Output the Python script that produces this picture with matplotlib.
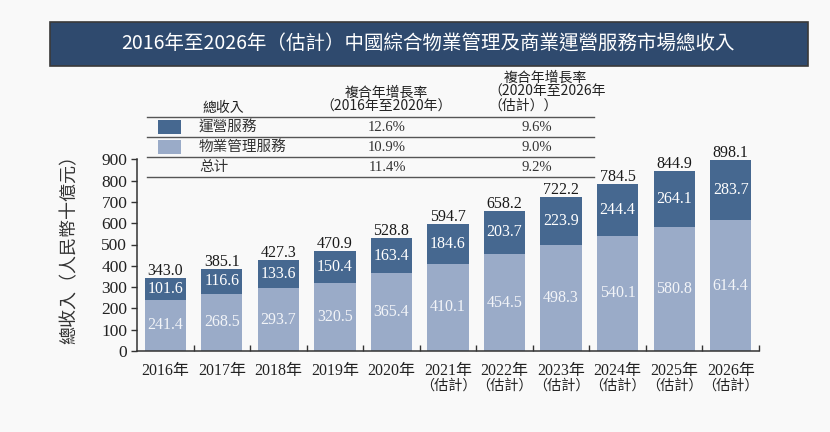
import matplotlib.pyplot as plt
from matplotlib.patches import Rectangle
from matplotlib.lines import Line2D
from matplotlib.transforms import blended_transform_factory
import numpy as np

years = ["2016年", "2017年", "2018年", "2019年", "2020年", "2021年",
         "2022年", "2023年", "2024年", "2025年", "2026年"]
estimated = [False, False, False, False, False, True, True, True, True, True, True]
property_mgmt = [241.4, 268.5, 293.7, 320.5, 365.4, 410.1, 454.5, 498.3, 540.1, 580.8, 614.4]
operations = [101.6, 116.6, 133.6, 150.4, 163.4, 184.6, 203.7, 223.9, 244.4, 264.1, 283.7]
totals = [343.0, 385.1, 427.3, 470.9, 528.8, 594.7, 658.2, 722.2, 784.5, 844.9, 898.1]

cagr_rows = ["運營服務", "物業管理服務", "总计"]
cagr_2016_2020 = ["12.6%", "10.9%", "11.4%"]
cagr_2020_2026 = ["9.6%", "9.0%", "9.2%"]

title = "2016年至2026年（估計）中國綜合物業管理及商業運營服務市場總收入"
ylabel = "總收入（人民幣十億元）"

dark_c = "#466890"
light_c = "#9aabc8"
serif = ["Liberation Serif", "Noto Sans CJK TC"]
sans = ["Noto Sans CJK TC", "DejaVu Sans"]

W, H = 830, 432
fig = plt.figure(figsize=(W / 100, H / 100), dpi=100, facecolor="#f9f9f9")


def fx(x):
    return x / W


def fy(y):
    return 1 - y / H


# title box
fig.add_artist(Rectangle((fx(50), fy(66)), fx(808) - fx(50), fy(22) - fy(66),
                         transform=fig.transFigure, facecolor="#2f4a6e",
                         edgecolor="#3a3a3a", lw=1.2))
fig.text(fx(428), fy(44), title, color="white", fontsize=14, family=sans,
         ha="center", va="center")

# main axes
ax = fig.add_axes([fx(137), fy(351), fx(759) - fx(137), fy(159.3) - fy(351)])
ax.set_facecolor("none")
x = np.arange(len(years))
ax.bar(x, property_mgmt, width=0.73, color=light_c)
ax.bar(x, operations, width=0.73, bottom=property_mgmt, color=dark_c)

for i in range(len(years)):
    ax.text(i, property_mgmt[i] / 2, "%.1f" % property_mgmt[i], ha="center", va="center",
            color="#f2f4f8", fontsize=11.5, family=serif)
    ax.text(i, property_mgmt[i] + operations[i] / 2, "%.1f" % operations[i], ha="center",
            va="center", color="white", fontsize=11.5, family=serif)
    ax.annotate("%.1f" % totals[i], (i, totals[i]), xytext=(0, 5), textcoords="offset points",
                ha="center", va="center", color="#1a1a1a", fontsize=11.5, family=serif)

ax.set_xlim(-0.5, len(years) - 0.5)
ax.set_ylim(0, 900)
ax.set_xticks(x)
ax.set_xticklabels(years, family=serif, fontsize=11.5)
ax.set_xticks(np.arange(0.5, len(years), 1), minor=True)
ax.tick_params(axis="x", which="major", length=0, pad=9, colors="#222")
ax.tick_params(axis="x", which="minor", direction="in", length=4, width=1, color="#333")

# second line of the estimated-year labels
tr = blended_transform_factory(ax.transData, fig.transFigure)
for i, est in enumerate(estimated):
    if est:
        ax.text(i, fy(386), "（估計）", transform=tr, ha="center", va="center",
                fontsize=10.2, family=sans, color="#222")

ax.set_yticks(range(0, 901, 100))
ax.set_yticklabels([str(v) for v in range(0, 901, 100)], family=serif, fontsize=12.5)
ax.tick_params(axis="y", direction="out", length=4, width=1, color="#333", labelcolor="#222", pad=3)
for s in ["top", "right"]:
    ax.spines[s].set_visible(False)
for s in ["left", "bottom"]:
    ax.spines[s].set_color("#333")
    ax.spines[s].set_linewidth(1.1)

fig.text(fx(70), fy(245), ylabel, rotation=90, ha="center", va="center",
         fontsize=13, family=sans, color="#333")

# growth rate table
for y in [116.7, 136.7, 157.3, 177.3]:
    fig.add_artist(Line2D([fx(147), fx(594)], [fy(y), fy(y)], color="#555", lw=1,
                          transform=fig.transFigure))

fig.add_artist(Rectangle((fx(158), fy(134)), fx(181) - fx(158), fy(120) - fy(134),
                         transform=fig.transFigure, facecolor=dark_c, edgecolor="none"))
fig.add_artist(Rectangle((fx(158), fy(154)), fx(181) - fx(158), fy(140) - fy(154),
                         transform=fig.transFigure, facecolor=light_c, edgecolor="none"))

hdr = dict(fontsize=10, family=sans, color="#222", va="center")
fig.text(fx(223), fy(108), "總收入", ha="center", **hdr)
fig.text(fx(386), fy(93), "複合年增長率", ha="center", **hdr)
fig.text(fx(386), fy(107), "（2016年至2020年）", ha="center", **hdr)
fig.text(fx(545), fy(78), "複合年增長率", ha="center", **hdr)
fig.text(fx(488), fy(92), "（2020年至2026年", ha="left", **hdr)
fig.text(fx(488), fy(106), "（估計））", ha="left", **hdr)

for j, row_y in enumerate([127.3, 147.3, 167.3]):
    fig.text(fx(199), fy(row_y), cagr_rows[j], ha="left", va="center", fontsize=10.5,
             family=sans, color="#333")
    fig.text(fx(387), fy(row_y), cagr_2016_2020[j], ha="center", va="center", fontsize=10.5,
             family=serif, color="#333")
    fig.text(fx(537), fy(row_y), cagr_2020_2026[j], ha="center", va="center", fontsize=10.5,
             family=serif, color="#333")

fig.savefig("out.png", dpi=100, facecolor=fig.get_facecolor())
